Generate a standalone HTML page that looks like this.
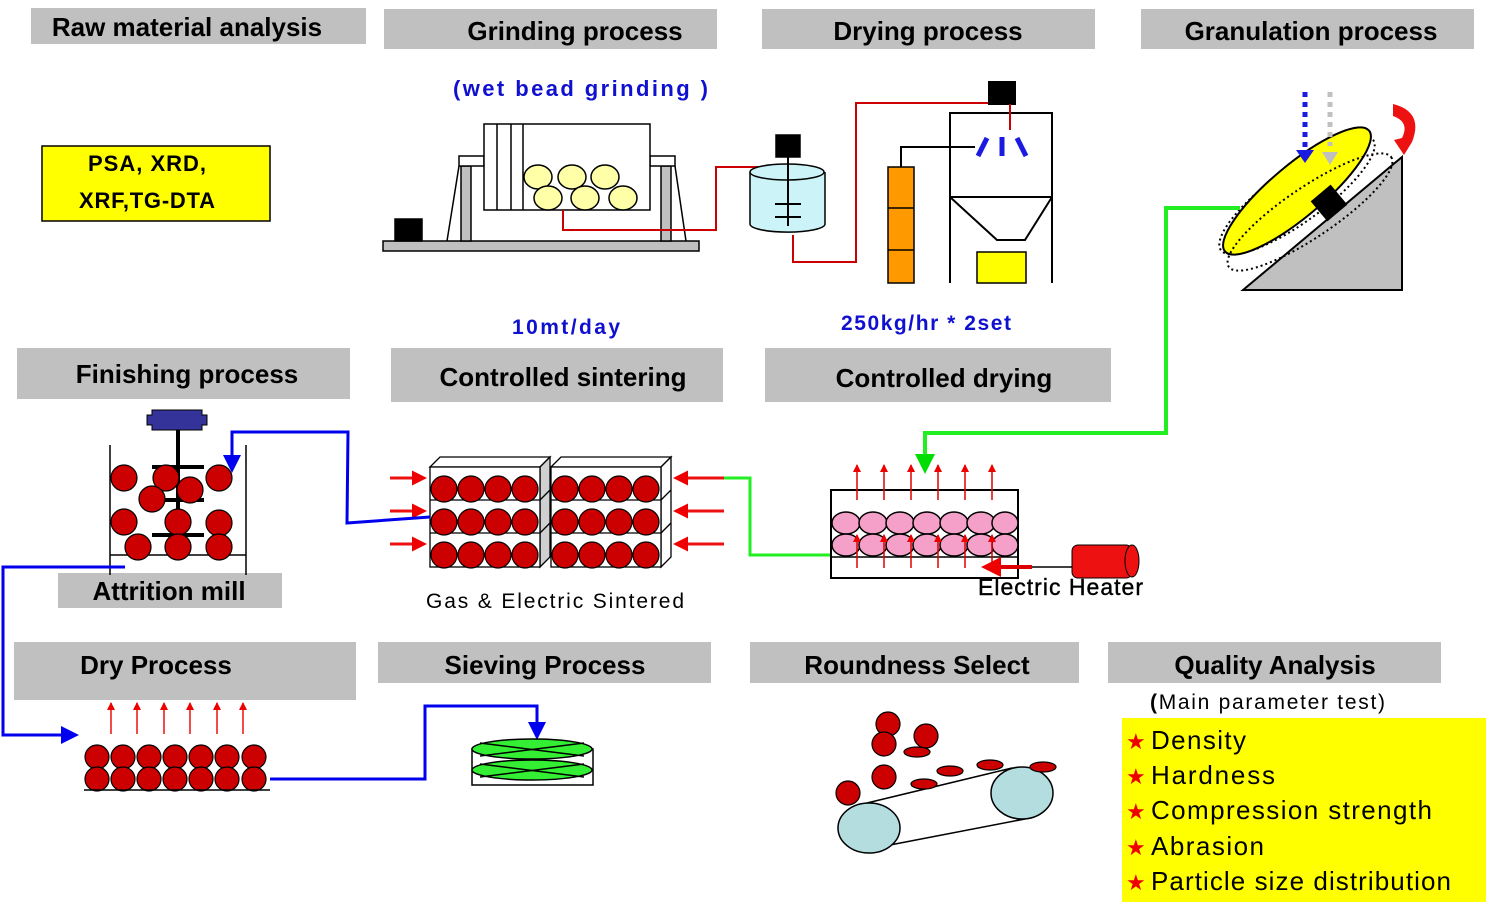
<!DOCTYPE html>
<html><head><meta charset="utf-8"><style>
body{margin:0;background:#fff}
svg{display:block;font-family:"Liberation Sans",Arial,sans-serif}
.h{font-weight:bold;font-size:26px;fill:#000;text-anchor:middle}
</style></head><body>
<svg width="1488" height="904" viewBox="0 0 1488 904" xmlns="http://www.w3.org/2000/svg">
<defs>
<marker id="ab" markerWidth="6" markerHeight="6" refX="5" refY="3" orient="auto" markerUnits="strokeWidth"><path d="M0,0 L6,3 L0,6z" fill="#0000ee"/></marker>
<marker id="ag" markerWidth="5" markerHeight="5" refX="4" refY="2.5" orient="auto" markerUnits="strokeWidth"><path d="M0,0 L5,2.5 L0,5z" fill="#00dd00"/></marker>
<marker id="ar" markerWidth="5" markerHeight="5" refX="4" refY="2.5" orient="auto" markerUnits="strokeWidth"><path d="M0,0 L5,2.5 L0,5z" fill="#ee0000"/></marker>
<marker id="ar2" markerWidth="8" markerHeight="8" refX="7" refY="4" orient="auto" markerUnits="userSpaceOnUse"><path d="M0,0 L8,4 L0,8z" fill="#ee0000"/></marker>
</defs>
<g fill="#c0c0c0">
<rect x="31" y="8" width="335" height="36"/><rect x="384" y="9" width="333" height="40"/>
<rect x="762" y="9" width="333" height="40"/><rect x="1141" y="9" width="333" height="40"/>
<rect x="17" y="348" width="333" height="51"/><rect x="391" y="348" width="332" height="54"/>
<rect x="765" y="348" width="346" height="54"/><rect x="58" y="573" width="224" height="35"/>
<rect x="14" y="642" width="342" height="58"/><rect x="378" y="642" width="333" height="41"/>
<rect x="750" y="642" width="329" height="41"/><rect x="1108" y="642" width="333" height="41"/>
</g>
<text class="h" x="187" y="36">Raw material analysis</text>
<text class="h" x="575" y="40">Grinding process</text>
<text class="h" x="928" y="40">Drying process</text>
<text class="h" x="1311" y="40">Granulation process</text>
<text class="h" x="187" y="383">Finishing process</text>
<text class="h" x="563" y="386">Controlled sintering</text>
<text class="h" x="944" y="387">Controlled drying</text>
<text class="h" x="169" y="600">Attrition mill</text>
<text class="h" x="156" y="674">Dry Process</text>
<text class="h" x="545" y="674">Sieving Process</text>
<text class="h" x="917" y="674">Roundness Select</text>
<text class="h" x="1275" y="674">Quality Analysis</text>
<rect x="42" y="146" width="228" height="75" fill="#ffff00" stroke="#000" stroke-width="1.5"/>
<text x="88" y="171" font-size="22" font-weight="bold" textLength="118">PSA, XRD,</text>
<text x="79" y="208" font-size="22" font-weight="bold" textLength="136">XRF,TG-DTA</text>
<text x="453" y="96" font-size="22" font-weight="bold" fill="#1010d0" textLength="255">(wet bead grinding )</text>
<text x="512" y="334" font-size="21" font-weight="bold" fill="#1010d0" textLength="108">10mt/day</text>
<text x="841" y="330" font-size="21" font-weight="bold" fill="#1010d0" textLength="170">250kg/hr * 2set</text>
<g stroke="#000" stroke-width="1.5">
<rect x="383" y="241" width="316" height="10" fill="#c0c0c0"/>
<rect x="395" y="219" width="27" height="22" fill="#000"/>
<line x1="459" y1="166" x2="447" y2="241"/><line x1="675" y1="166" x2="686" y2="241"/>
<rect x="461" y="166" width="10" height="75" fill="#c0c0c0"/><rect x="661" y="166" width="10" height="75" fill="#c0c0c0"/>
<rect x="459" y="156" width="25" height="10" fill="#fff"/><rect x="650" y="156" width="25" height="10" fill="#fff"/>
<rect x="484" y="124" width="166" height="86" fill="#fff"/>
<line x1="497" y1="124" x2="497" y2="210"/><line x1="511" y1="124" x2="511" y2="210"/><line x1="523" y1="124" x2="523" y2="210"/>
<g fill="#ffffa8"><ellipse cx="538" cy="177" rx="14" ry="12"/><ellipse cx="572" cy="177" rx="14" ry="12"/><ellipse cx="605" cy="177" rx="14" ry="12"/>
<ellipse cx="548" cy="198" rx="14" ry="12"/><ellipse cx="585" cy="198" rx="14" ry="12"/><ellipse cx="623" cy="198" rx="14" ry="12"/></g>
</g>
<polyline points="563,210 563,230 716,230 716,167 780,167 780,178" fill="none" stroke="#cc0000" stroke-width="2"/>
<polyline points="793,235 793,262 856,262 856,103 1010,103 1010,130" fill="none" stroke="#cc0000" stroke-width="2"/>
<g stroke="#000" stroke-width="1.5">
<path d="M750,172 L750,224 A37,8 0 0 0 825,224 L825,172" fill="#ccf4f8"/>
<ellipse cx="787" cy="172" rx="37" ry="8" fill="#ccf4f8"/>
<rect x="776" y="135" width="24" height="22" fill="#000"/>
<line x1="788" y1="157" x2="788" y2="226" stroke-width="2"/>
<line x1="775" y1="204" x2="801" y2="204" stroke-width="2"/><line x1="775" y1="217" x2="801" y2="217" stroke-width="2"/>
</g>
<g stroke="#000" stroke-width="2" fill="none">
<rect x="989" y="82" width="26" height="22" fill="#000"/>
<polyline points="950,283 950,113 1052,113 1052,283"/>
<line x1="950" y1="197" x2="1052" y2="197"/>
<polyline points="950,197 997,240 1025,240 1052,197"/>
<polyline points="901,167 901,147 975,147"/>
<rect x="888" y="167" width="26" height="116" fill="#ff9900" stroke-width="1.5"/>
<line x1="888" y1="208" x2="914" y2="208" stroke-width="1.5"/><line x1="888" y1="250" x2="914" y2="250" stroke-width="1.5"/>
<rect x="977" y="252" width="49" height="31" fill="#ffff00" stroke-width="1.5"/>
</g>
<line x1="1010" y1="104" x2="1010" y2="123" stroke="#cc0000" stroke-width="2"/>
<g stroke="#1a1ae0" stroke-width="5"><line x1="987" y1="138" x2="978" y2="156"/><line x1="1002" y1="137" x2="1002" y2="156"/><line x1="1017" y1="138" x2="1026" y2="156"/></g>
<polygon points="1243,290 1402,157 1402,290" fill="#c0c0c0" stroke="#000" stroke-width="2"/>
<ellipse cx="1297" cy="195" rx="94" ry="27" transform="rotate(-36 1297 195)" fill="none" stroke="#000" stroke-width="2" stroke-dasharray="2,3"/>
<ellipse cx="1297" cy="191" rx="94" ry="26" transform="rotate(-40 1297 191)" fill="#ffff00" stroke="#000" stroke-width="2"/>
<ellipse cx="1310" cy="212" rx="98" ry="25" transform="rotate(-34 1310 212)" fill="none" stroke="#000" stroke-width="2" stroke-dasharray="2,3"/>
<rect x="1316" y="190" width="26" height="26" fill="#000" transform="rotate(-40 1329 203)"/>
<line x1="1305" y1="92" x2="1305" y2="150" stroke="#1a1ae0" stroke-width="5" stroke-dasharray="5,5"/>
<polygon points="1296,150 1314,150 1305,163" fill="#1a1ae0"/>
<line x1="1330" y1="92" x2="1330" y2="146" stroke="#c0c0c0" stroke-width="5" stroke-dasharray="5,5"/>
<polygon points="1322,152 1338,152 1330,165" fill="#c0c0c0"/>
<path d="M1393,104 Q1424,112 1412,142 L1404,155 L1394,140 L1402,138 Q1410,122 1393,116z" fill="#ee1111"/>
<polyline points="1240,208 1166,208 1166,433 925,433 925,470" fill="none" stroke="#22ee22" stroke-width="4" marker-end="url(#ag)"/>
<polyline points="831,555 750,555 750,478 705,478 M750,511 705,511 M750,544 705,544" fill="none" stroke="#22ee22" stroke-width="3"/>
<rect x="831" y="490" width="187" height="88" fill="#fff" stroke="#000" stroke-width="2"/>
<g fill="#f4a0c8" stroke="#000" stroke-width="1.5">
<ellipse cx="846" cy="523" rx="14" ry="11"/><ellipse cx="873" cy="523" rx="14" ry="11"/><ellipse cx="900" cy="523" rx="14" ry="11"/><ellipse cx="927" cy="523" rx="14" ry="11"/><ellipse cx="954" cy="523" rx="14" ry="11"/><ellipse cx="981" cy="523" rx="14" ry="11"/><ellipse cx="1005" cy="523" rx="13" ry="11"/>
<ellipse cx="846" cy="545" rx="14" ry="11"/><ellipse cx="873" cy="545" rx="14" ry="11"/><ellipse cx="900" cy="545" rx="14" ry="11"/><ellipse cx="927" cy="545" rx="14" ry="11"/><ellipse cx="954" cy="545" rx="14" ry="11"/><ellipse cx="981" cy="545" rx="14" ry="11"/><ellipse cx="1005" cy="545" rx="13" ry="11"/>
</g>
<line x1="831" y1="557" x2="1018" y2="557" stroke="#000" stroke-width="1.5"/>
<g stroke="#dd0000" stroke-width="1.5" marker-end="url(#ar2)">
<line x1="857" y1="500" x2="857" y2="465"/><line x1="884" y1="500" x2="884" y2="465"/><line x1="911" y1="500" x2="911" y2="465"/><line x1="938" y1="500" x2="938" y2="465"/><line x1="965" y1="500" x2="965" y2="465"/><line x1="992" y1="500" x2="992" y2="465"/>
<line x1="857" y1="568" x2="857" y2="535"/><line x1="884" y1="568" x2="884" y2="535"/><line x1="911" y1="568" x2="911" y2="535"/><line x1="938" y1="568" x2="938" y2="535"/><line x1="965" y1="568" x2="965" y2="535"/><line x1="992" y1="568" x2="992" y2="535"/>
</g>
<line x1="1032" y1="567" x2="1072" y2="567" stroke="#000" stroke-width="1.5"/>
<line x1="1032" y1="567" x2="985" y2="567" stroke="#dd0000" stroke-width="4" marker-end="url(#ar)"/>
<rect x="1072" y="545" width="60" height="33" rx="6" fill="#ee1111" stroke="#000" stroke-width="1"/>
<ellipse cx="1132" cy="561" rx="7" ry="16" fill="#ee1111" stroke="#000" stroke-width="1"/>
<text x="978" y="595" font-size="23" textLength="165" stroke="#000" stroke-width="0.4">Electric Heater</text>
<g stroke="#000" stroke-width="1.3" fill="#fff">
<polygon points="430,467 440,457 550,457 540,467"/><polygon points="551,467 561,457 671,457 661,467"/>
<polygon points="540,467 550,457 550,557 540,567" fill="#d0d0d0"/><polygon points="661,467 671,457 671,557 661,567"/>
<rect x="430" y="467" width="110" height="100"/><rect x="551" y="467" width="110" height="100"/>
<line x1="430" y1="500" x2="540" y2="500"/><line x1="430" y1="533" x2="540" y2="533"/>
<line x1="551" y1="500" x2="661" y2="500"/><line x1="551" y1="533" x2="661" y2="533"/>
<line x1="661" y1="500" x2="671" y2="490"/><line x1="661" y1="533" x2="671" y2="523"/>
<line x1="540" y1="500" x2="550" y2="490"/><line x1="540" y1="533" x2="550" y2="523"/>
</g>
<g fill="#cc0000" stroke="#000" stroke-width="1.2">
<circle cx="444" cy="489" r="13"/><circle cx="471" cy="489" r="13"/><circle cx="498" cy="489" r="13"/><circle cx="525" cy="489" r="13"/>
<circle cx="565" cy="489" r="13"/><circle cx="592" cy="489" r="13"/><circle cx="619" cy="489" r="13"/><circle cx="646" cy="489" r="13"/>
<circle cx="444" cy="522" r="13"/><circle cx="471" cy="522" r="13"/><circle cx="498" cy="522" r="13"/><circle cx="525" cy="522" r="13"/>
<circle cx="565" cy="522" r="13"/><circle cx="592" cy="522" r="13"/><circle cx="619" cy="522" r="13"/><circle cx="646" cy="522" r="13"/>
<circle cx="444" cy="555" r="13"/><circle cx="471" cy="555" r="13"/><circle cx="498" cy="555" r="13"/><circle cx="525" cy="555" r="13"/>
<circle cx="565" cy="555" r="13"/><circle cx="592" cy="555" r="13"/><circle cx="619" cy="555" r="13"/><circle cx="646" cy="555" r="13"/>
</g>
<g stroke="#ee1111" stroke-width="3" marker-end="url(#ar)">
<line x1="390" y1="478" x2="424" y2="478"/><line x1="390" y1="511" x2="424" y2="511"/><line x1="390" y1="544" x2="424" y2="544"/>
<line x1="724" y1="478" x2="676" y2="478"/><line x1="724" y1="511" x2="676" y2="511"/><line x1="724" y1="544" x2="676" y2="544"/>
</g>
<text x="426" y="608" font-size="21" textLength="258">Gas &amp; Electric Sintered</text>
<g stroke="#000" stroke-width="1.5">
<line x1="110" y1="445" x2="110" y2="575"/><line x1="246" y1="445" x2="246" y2="575"/><line x1="110" y1="555" x2="246" y2="555"/>
</g>
<path d="M152,410 h50 v5 h5 v10 h-5 v5 h-50 v-5 h-5 v-10 h5z" fill="#33339a" stroke="#000"/>
<line x1="178" y1="430" x2="178" y2="555" stroke="#000" stroke-width="4"/>
<g stroke="#000" stroke-width="4"><line x1="152" y1="467" x2="204" y2="467"/><line x1="152" y1="500" x2="204" y2="500"/><line x1="152" y1="535" x2="204" y2="535"/></g>
<g fill="#cc0000" stroke="#000" stroke-width="1.2">
<circle cx="124" cy="478" r="13"/><circle cx="166" cy="478" r="13"/><circle cx="219" cy="478" r="13"/><circle cx="190" cy="490" r="13"/>
<circle cx="152" cy="499" r="13"/><circle cx="219" cy="523" r="13"/><circle cx="124" cy="522" r="13"/><circle cx="178" cy="522" r="13"/>
<circle cx="138" cy="547" r="13"/><circle cx="178" cy="547" r="13"/><circle cx="219" cy="547" r="13"/>
</g>
<polyline points="430,517 347,523 348,432 232,432 232,470" fill="none" stroke="#0000ee" stroke-width="3" marker-end="url(#ab)"/>
<polyline points="125,567 3,567 3,735 76,735" fill="none" stroke="#0000ee" stroke-width="3" marker-end="url(#ab)"/>
<polyline points="270,779 425,779 425,706 537,706 537,737" fill="none" stroke="#0000ee" stroke-width="3" marker-end="url(#ab)"/>
<g fill="#cc0000" stroke="#000" stroke-width="1.2">
<circle cx="97" cy="757" r="12"/><circle cx="123" cy="757" r="12"/><circle cx="149" cy="757" r="12"/><circle cx="175" cy="757" r="12"/><circle cx="201" cy="757" r="12"/><circle cx="227" cy="757" r="12"/><circle cx="254" cy="757" r="12"/>
<circle cx="97" cy="779" r="12"/><circle cx="123" cy="779" r="12"/><circle cx="149" cy="779" r="12"/><circle cx="175" cy="779" r="12"/><circle cx="201" cy="779" r="12"/><circle cx="227" cy="779" r="12"/><circle cx="254" cy="779" r="12"/>
</g>
<line x1="84" y1="790" x2="270" y2="790" stroke="#000" stroke-width="1.5"/>
<g stroke="#ee1111" stroke-width="1.5" marker-end="url(#ar2)">
<line x1="111" y1="734" x2="111" y2="703"/><line x1="137" y1="734" x2="137" y2="703"/><line x1="164" y1="734" x2="164" y2="703"/><line x1="190" y1="734" x2="190" y2="703"/><line x1="217" y1="734" x2="217" y2="703"/><line x1="243" y1="734" x2="243" y2="703"/>
</g>
<g stroke="#000" stroke-width="1.5">
<rect x="472" y="749" width="121" height="36" fill="#fff"/>
<ellipse cx="532" cy="770" rx="60" ry="10" fill="#33ee33"/>
<ellipse cx="532" cy="749" rx="60" ry="10" fill="#33ee33"/>
<line x1="480" y1="743" x2="584" y2="756"/><line x1="480" y1="756" x2="584" y2="743"/>
<line x1="480" y1="764" x2="584" y2="777"/><line x1="480" y1="777" x2="584" y2="764"/>
</g>
<g stroke="#000" stroke-width="1.5">
<line x1="867" y1="803" x2="1012" y2="768"/><line x1="890" y1="845" x2="1030" y2="818"/>
<ellipse cx="869" cy="828" rx="31" ry="25" fill="#b4dde0"/>
<ellipse cx="1022" cy="793" rx="31" ry="26" fill="#b4dde0"/>
</g>
<g fill="#cc0000" stroke="#000" stroke-width="1.2">
<circle cx="888" cy="724" r="12"/><circle cx="926" cy="736" r="12"/><circle cx="884" cy="744" r="12"/><circle cx="884" cy="777" r="12"/><circle cx="848" cy="793" r="12"/>
<ellipse cx="917" cy="752" rx="13" ry="5"/><ellipse cx="924" cy="784" rx="13" ry="5"/><ellipse cx="950" cy="771" rx="13" ry="5"/><ellipse cx="990" cy="765" rx="13" ry="5"/><ellipse cx="1043" cy="767" rx="13" ry="5"/>
</g>
<text x="1150" y="709" font-size="21" textLength="235"><tspan font-weight="bold">(</tspan>Main parameter test)</text>
<rect x="1122" y="718" width="364" height="184" fill="#ffff00"/>
<g font-size="26"><g fill="#ee0000" font-size="22">
<text x="1126" y="749">★</text><text x="1126" y="784">★</text><text x="1126" y="819">★</text><text x="1126" y="855">★</text><text x="1126" y="890">★</text></g>
<text x="1151" y="749" textLength="95">Density</text>
<text x="1151" y="784" textLength="124">Hardness</text>
<text x="1151" y="819" textLength="281">Compression strength</text>
<text x="1151" y="855" textLength="113">Abrasion</text>
<text x="1151" y="890" textLength="300">Particle size distribution</text>
</g>
</svg>
</body></html>
